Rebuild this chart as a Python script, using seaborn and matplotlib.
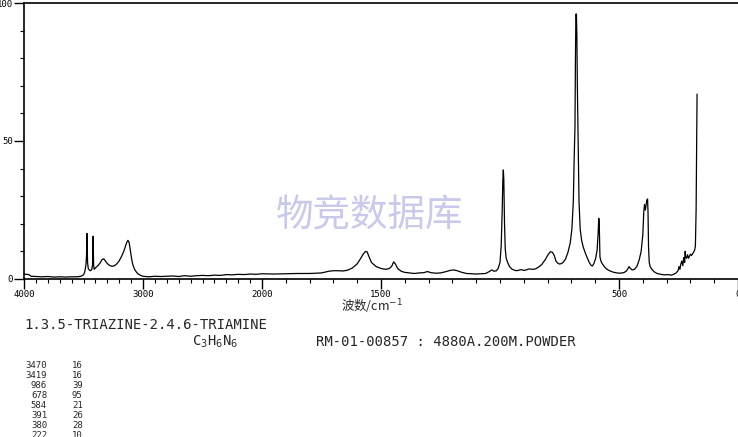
import numpy as np
import pandas as pd
import matplotlib
matplotlib.use("Agg")
import matplotlib.pyplot as plt
import seaborn as sns

# ---- data ----
wavenumber = [4000, 3980, 3960, 3950, 3940, 3900, 3850, 3800, 3750, 3700, 3650, 3600, 3550, 3520,
              3500, 3490, 3480, 3475, 3470, 3466, 3460, 3450, 3440, 3430, 3424, 3419, 3415, 3410,
              3400, 3380, 3360, 3345, 3330, 3315, 3300, 3280, 3260, 3240, 3220, 3200, 3180, 3160,
              3145, 3135, 3126, 3118, 3110, 3100, 3090, 3080, 3070, 3060, 3050, 3040, 3020, 3000,
              2980, 2950, 2900, 2850, 2800, 2750, 2700, 2650, 2600, 2550, 2500, 2450, 2400, 2350,
              2300, 2250, 2200, 2150, 2100, 2050, 2000, 1950, 1900, 1850, 1800, 1750, 1720, 1700,
              1680, 1660, 1640, 1620, 1600, 1585, 1575, 1565, 1558, 1550, 1540, 1530, 1520, 1500,
              1480, 1465, 1455, 1447, 1440, 1430, 1415, 1400, 1380, 1360, 1340, 1320, 1305, 1290,
              1270, 1250, 1230, 1210, 1195, 1180, 1160, 1140, 1120, 1100, 1080, 1060, 1045, 1035,
              1025, 1015, 1008, 1000, 995, 991, 988, 986, 984, 981, 978, 974, 968, 960, 950, 940,
              930, 920, 910, 900, 890, 880, 870, 860, 850, 840, 825, 810, 798, 788, 780, 772, 765,
              758, 750, 742, 735, 725, 715, 705, 698, 692, 688, 685, 683, 681, 679, 677, 675, 672,
              668, 663, 657, 650, 642, 635, 625, 618, 612, 606, 598, 592, 588, 585, 583, 580, 576,
              570, 562, 552, 540, 525, 510, 495, 480, 470, 462, 458, 452, 445, 435, 425, 415, 407,
              400, 396, 393, 391, 389, 386, 383, 380, 378, 376, 373, 369, 362, 352, 340, 325, 310,
              295, 280, 268, 260, 252, 248, 244, 240, 236, 232, 228, 224, 222, 220, 216, 212, 208,
              204, 200, 195, 190, 186, 182, 179, 176, 174, 172]
intensity = [1.8, 1.7, 1.6, 1.3, 1.0, 0.9, 0.8, 0.9, 0.7, 0.8, 0.7, 0.8, 0.8, 1.0,
             1.5, 2.5, 5.0, 8.0, 16.5, 6.0, 3.8, 3.2, 3.0, 3.5, 5.0, 15.5, 5.0, 3.5,
             4.0, 4.8, 5.8, 7.0, 7.3, 6.5, 5.6, 4.9, 4.6, 4.8, 5.5, 6.6, 8.2, 10.2,
             12.2, 13.4, 14.0, 13.4, 11.5, 8.5, 6.0, 4.5, 3.5, 2.8, 2.2, 1.8, 1.3, 1.0,
             0.9, 0.8, 1.0, 0.9, 1.0, 1.1, 0.9, 1.2, 1.0, 1.2, 1.3, 1.2, 1.4, 1.3,
             1.6, 1.5, 1.7, 1.6, 1.8, 1.7, 1.9, 1.8, 1.9, 2.0, 2.0, 2.2, 2.8, 3.0,
             3.0, 2.9, 3.2, 4.0, 5.5, 7.5, 9.0, 10.0, 9.8, 8.0, 6.0, 5.2, 4.5, 3.8,
             3.5, 3.8, 4.6, 6.2, 5.5, 3.8, 2.8, 2.4, 2.2, 2.0, 2.2, 2.3, 2.7, 2.3,
             2.1, 2.2, 2.6, 3.1, 3.3, 3.0, 2.4, 2.0, 1.9, 1.8, 1.9, 2.0, 2.7, 3.3,
             2.8, 3.0, 3.8, 6.0, 12.0, 24.0, 36.0, 39.5, 36.0, 20.0, 11.0, 7.5, 6.0, 4.5, 3.6, 3.2,
             3.0, 3.2, 3.4, 3.1, 3.3, 3.6, 3.6, 3.5, 3.7, 4.2, 5.2, 7.0, 8.8, 9.9, 9.7, 8.5, 6.5,
             5.8, 5.4, 5.6, 6.0, 7.2, 9.5, 13.0, 18.0, 28.0, 45.0, 55.0, 80.0, 96.0, 96.0, 88.0, 70.0, 52.0,
             28.0, 18.0, 14.0, 11.5, 9.5, 8.0, 6.0, 5.0, 4.7, 5.5, 7.5, 10.5, 16.0, 22.0, 20.0, 8.0, 6.5,
             5.5, 4.5, 3.6, 3.0, 2.5, 2.2, 2.1, 2.3, 2.8, 3.8, 4.5, 3.8, 3.3, 3.5, 4.5, 7.0, 10.0,
             16.0, 24.0, 27.0, 26.0, 25.0, 27.0, 28.5, 29.0, 24.0, 12.0, 6.0, 4.5, 3.5, 2.6, 2.0, 1.7, 1.5,
             1.6, 1.4, 1.8, 2.2, 3.0, 4.5, 3.5, 5.5, 6.5, 4.8, 7.8, 6.0, 10.0, 8.0, 7.5, 8.8, 7.5,
             8.2, 9.0, 8.5, 9.3, 9.8, 10.5, 12.0, 25.0, 45.0, 67.0]

x_major = [4000, 3000, 2000, 1500, 500, 0]
x_major_labels = ["4000", "3000", "2000", "1500", "500", "0"]
y_major = [0, 50, 100]

peak_pos = ["3470", "3419", "986", "678", "584", "391", "380", "222"]
peak_int = ["16", "16", "39", "95", "21", "26", "28", "10"]

title_text = "1.3.5-TRIAZINE-2.4.6-TRIAMINE"
formula_text = r"C$_3$H$_6$N$_6$"
ref_text = "RM-01-00857 : 4880A.200M.POWDER"
xlabel_text = "波数/cm$^{-1}$"
watermark = "物竞数据库"

df = pd.DataFrame({"wn": wavenumber, "I": intensity})

sns.set_style("white")
plt.rcParams["font.family"] = ["DejaVu Sans Mono", "DejaVu Sans"]

W, H = 738, 437
fig = plt.figure(figsize=(W / 100, H / 100), dpi=100)
fig.patch.set_facecolor("white")
ax = fig.add_axes([24 / W, (H - 279) / H, 714 / W, 276 / H])

def fwd(x):
    x = np.asarray(x, dtype=float)
    return np.where(x <= 2000, x, 2000 + (x - 2000) / 2)

def inv(t):
    t = np.asarray(t, dtype=float)
    return np.where(t <= 2000, t, 2000 + 2 * (t - 2000))

ax.set_xscale("function", functions=(fwd, inv))

# watermark behind the spectrum
fig.text(370 / W, 1 - 216 / H, watermark, color="#c9c9ec", fontsize=27,
         family=["Noto Sans CJK SC", "DejaVu Sans"], ha="center", va="center", zorder=0)

sns.lineplot(data=df, x="wn", y="I", ax=ax, color="black", linewidth=0.9,
             sort=False, estimator=None)
ax.patch.set_alpha(0)

ax.set_xlim(4000, 0)
ax.set_ylim(0, 100)

ax.set_xticks(x_major)
ax.set_xticklabels(x_major_labels)
ax.set_xticks(list(range(4000, -1, -100)), minor=True)
ax.set_yticks(y_major)
ax.set_yticklabels([str(v) for v in y_major])
ax.set_yticks(list(range(0, 101, 10)), minor=True)

ax.tick_params(axis="both", which="major", direction="out", length=7, width=1,
               color="black", labelsize=6.5, labelcolor="black", pad=1)
ax.tick_params(axis="both", which="minor", direction="out", length=3, width=0.8, color="black")
ax.tick_params(axis="x", which="both", bottom=True, top=False)
ax.tick_params(axis="y", which="both", left=True, right=False)

for side in ["left", "bottom", "top"]:
    ax.spines[side].set_visible(True)
    ax.spines[side].set_color("black")
    ax.spines[side].set_linewidth(1.2)
ax.spines["right"].set_visible(False)

ax.set_xlabel("")
ax.set_ylabel("")

# axis title
fig.text(372 / W, 1 - 307 / H, xlabel_text, fontsize=9,
         family=["Noto Sans CJK SC", "DejaVu Sans"], ha="center", va="center")

# header lines
fig.text(24 / W, 1 - 325 / H, title_text, fontsize=10, ha="left", va="center")
fig.text(192 / W, 1 - 342 / H, formula_text, fontsize=10, ha="left", va="center")
fig.text(316 / W, 1 - 342 / H, ref_text, fontsize=10, ha="left", va="center")

# peak table
for i, (p, v) in enumerate(zip(peak_pos, peak_int)):
    yy = 1 - (366 + i * 9.9) / H
    fig.text(47 / W, yy, p, fontsize=6.5, ha="right", va="center")
    fig.text(72 / W, yy, v, fontsize=6.5, ha="left", va="center")

fig.savefig("out.png", dpi=100, facecolor="white")
